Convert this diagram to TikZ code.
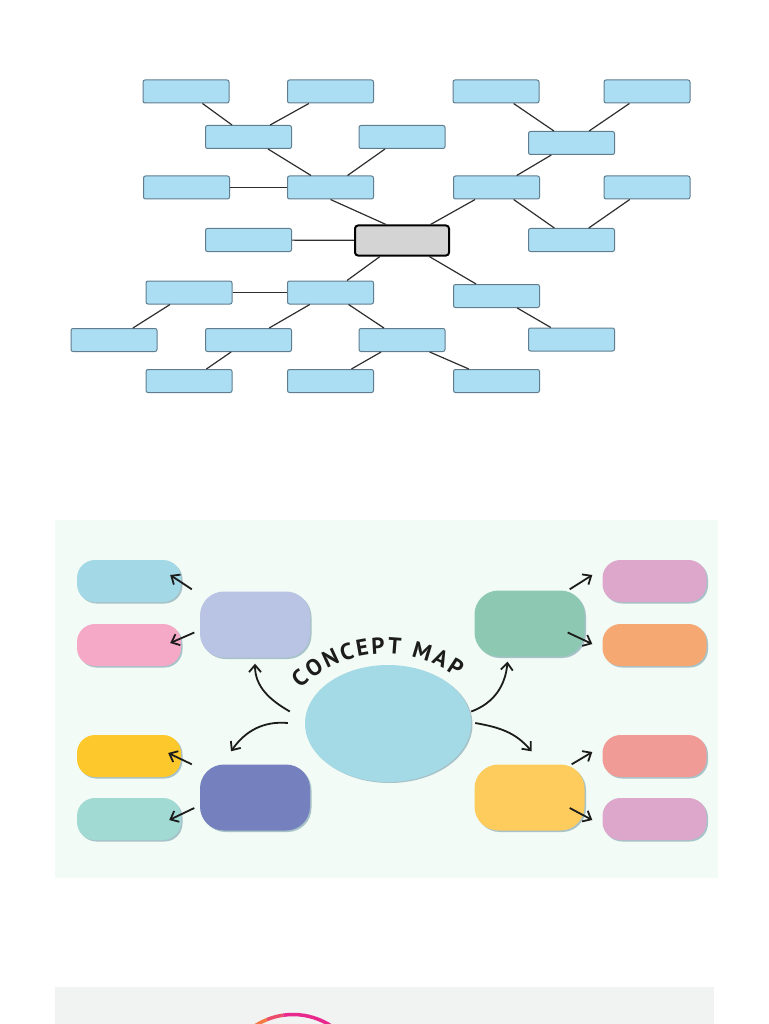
\documentclass[tikz,border=0pt]{standalone}
\usepackage{fontspec}
\usetikzlibrary{arrows.meta,shapes.geometric,shadows,decorations.text}
\newfontfamily\lettering{PT Sans}
\newcommand\maplettering{\lettering\bfseries\fontsize{23}{23}\selectfont}
\definecolor{cellfill}{HTML}{ABDEF3}
\definecolor{cellline}{HTML}{5F7D8F}
\definecolor{coregray}{HTML}{D4D4D4}
\definecolor{linkgray}{HTML}{2E2E2E}
\definecolor{mint}{HTML}{F2FBF5}
\definecolor{paper}{HTML}{F1F2F2}
\definecolor{blobshade}{HTML}{A7C2C8}
\definecolor{inkblack}{HTML}{1C1C1C}
\definecolor{cyanpill}{HTML}{A3D9E6}
\definecolor{pinkpill}{HTML}{F5A9C6}
\definecolor{lavblob}{HTML}{B9C3E4}
\definecolor{yellowpill}{HTML}{FDC82B}
\definecolor{tealpill}{HTML}{A1D9D3}
\definecolor{navyblob}{HTML}{7581BF}
\definecolor{hubblue}{HTML}{A3DAE6}
\definecolor{greenblob}{HTML}{8DC9B2}
\definecolor{orchidpill}{HTML}{DDA6CB}
\definecolor{orangepill}{HTML}{F5A872}
\definecolor{sunblob}{HTML}{FECC5D}
\definecolor{salmonpill}{HTML}{F19B97}
\definecolor{ringpink}{HTML}{E8288C}
\definecolor{ringorange}{HTML}{F47A46}

\begin{document}
\begin{tikzpicture}[
    x=1pt, y=1pt,
    cell/.style={draw=cellline, line width=1pt, fill=cellfill, rounded corners=2pt, minimum width=86pt, minimum height=23pt, inner sep=0pt},
    core/.style={draw=black, line width=2pt, fill=coregray, rounded corners=3pt, minimum width=94pt, minimum height=30pt, inner sep=0pt},
    link/.style={draw=linkgray, line width=1.2pt},
    pill/.style={rounded corners=18pt, minimum width=104pt, minimum height=42pt, inner sep=0pt, drop shadow={shadow xshift=1.5pt, shadow yshift=-1.5pt, fill=blobshade, opacity=1}},
    blob/.style={rounded corners=24pt, minimum width=110pt, minimum height=66pt, inner sep=0pt, drop shadow={shadow xshift=1.5pt, shadow yshift=-1.5pt, fill=blobshade, opacity=1}},
    carr/.style={-{Straight Barb[length=7pt, width=12pt]}, line width=1.8pt, draw=inkblack}
]
\useasboundingbox (0,0) rectangle (768,-1024);

\node[cell] (r1a) at (186,-91.5) {};
\node[cell] (r1b) at (330.5,-91.5) {};
\node[cell] (r1c) at (496,-91.5) {};
\node[cell] (r1d) at (647,-91.5) {};
\node[cell] (r2a) at (248.5,-137) {};
\node[cell] (r2b) at (402,-137) {};
\node[cell] (r2c) at (571.5,-143) {};
\node[cell] (r3a) at (186.5,-187.5) {};
\node[cell] (r3b) at (330.5,-187.5) {};
\node[cell] (r3c) at (496.5,-187.5) {};
\node[cell] (r3d) at (647,-187.5) {};
\node[cell] (r4a) at (248.5,-240) {};
\node[core] (core) at (402,-240.5) {};
\node[cell] (r4c) at (571.5,-240) {};
\node[cell] (r5a) at (189,-292.5) {};
\node[cell] (r5b) at (330.5,-292.5) {};
\node[cell] (r5c) at (496.5,-296) {};
\node[cell] (r6a) at (114,-340) {};
\node[cell] (r6b) at (248.5,-340) {};
\node[cell] (r6c) at (402,-340) {};
\node[cell] (r6d) at (571.5,-339.5) {};
\node[cell] (r7a) at (189,-381) {};
\node[cell] (r7b) at (330.5,-381) {};
\node[cell] (r7c) at (496.5,-381) {};

\draw[link] (r1a) -- (r2a);
\draw[link] (r1b) -- (r2a);
\draw[link] (r2a) -- (r3b);
\draw[link] (r2b) -- (r3b);
\draw[link] (r3a) -- (r3b);
\draw[link] (r3b.south) -- ([xshift=-16]core.north);
\draw[link] (r3c) -- (core);
\draw[link] (r3c) -- (r2c);
\draw[link] (r2c) -- (r1c);
\draw[link] (r2c) -- (r1d);
\draw[link] (r3c) -- (r4c);
\draw[link] (r3d) -- (r4c);
\draw[link] (r4a) -- (core);
\draw[link] (core) -- (r5b);
\draw[link] (core) -- (r5c);
\draw[link] (r5a) -- (r5b);
\draw[link] (r5a) -- (r6a);
\draw[link] (r5b) -- (r6b);
\draw[link] (r5b) -- (r6c);
\draw[link] (r5c) -- (r6d);
\draw[link] (r6b) -- (r7a);
\draw[link] (r6c) -- (r7b);
\draw[link] (r6c) -- (r7c);

\fill[mint] (55,-520) rectangle (718,-878);

\node[pill, fill=cyanpill] (cyn) at (129,-581) {};
\node[pill, fill=pinkpill] (pnk) at (129,-645) {};
\node[blob, fill=lavblob] (lav) at (255,-624.5) {};
\node[pill, fill=yellowpill] (ylwl) at (129,-756) {};
\node[pill, fill=tealpill] (tel) at (129,-819) {};
\node[blob, fill=navyblob] (dkb) at (255,-797.5) {};
\node[ellipse, fill=hubblue, minimum width=166pt, minimum height=117pt, inner sep=0pt,
      drop shadow={shadow xshift=1.5pt, shadow yshift=-1pt, fill=blobshade, opacity=1}] (hub) at (388,-723.5) {};
\node[blob, fill=greenblob] (grn) at (529.5,-623.5) {};
\node[pill, fill=orchidpill] (prp1) at (654.5,-581) {};
\node[pill, fill=orangepill] (orng) at (654.5,-645) {};
\node[blob, fill=sunblob] (ylw) at (529.5,-797.5) {};
\node[pill, fill=salmonpill] (sal) at (654.5,-756) {};
\node[pill, fill=orchidpill] (prp2) at (654.5,-819) {};

\path[decorate, decoration={text along path, text align=fit to path,
      text color=inkblack, text={|\maplettering|CONCEPT MAP}}]
  ([shift={(-87.75,35.26)}]hub.center) arc[start angle=134, end angle=54, radius=122];

\draw[carr] ([shift={(-15,12)}]hub.west) to[out=150, in=-90] ([yshift=-6]lav.south);
\draw[carr] ([shift={(-17,0.5)}]hub.west) to[out=175, in=55] ([shift={(-24,13)}]dkb.north);
\draw[carr] ([shift={(0,12)}]hub.east) to[out=20, in=-95] ([shift={(-22,-5)}]grn.south);
\draw[carr] ([shift={(4,0.5)}]hub.east) to[out=-10, in=130] ([shift={(2,13)}]ylw.north);

\draw[carr] ([shift={(-8,2)}]lav.north west) -- ([shift={(-11,6)}]cyn.east);
\draw[carr] ([shift={(-5.5,-8)}]lav.west) -- ([shift={(-11,2)}]pnk.east);
\draw[carr] ([shift={(-8,0)}]dkb.north west) -- ([shift={(-13,3)}]ylwl.east);
\draw[carr] ([shift={(-5.5,-10.5)}]dkb.west) -- ([shift={(-12,-1)}]tel.east);
\draw[carr] ([shift={(-15,1)}]grn.north east) -- ([shift={(-10,6)}]prp1.west);
\draw[carr] ([shift={(-17,-9)}]grn.east) -- ([shift={(-10,1)}]orng.west);
\draw[carr] ([shift={(-13,0)}]ylw.north east) -- ([shift={(-10,4)}]sal.west);
\draw[carr] ([shift={(-15,-10.5)}]ylw.east) -- ([shift={(-10,-1)}]prp2.west);

\fill[paper] (55,-987) rectangle (714,-1024);
\draw[ringorange, line width=3.5pt] (293,-1084) ++(150:69.5) arc[start angle=150, end angle=112, radius=69.5];
\draw[ringpink!55!ringorange, line width=3.5pt] (293,-1084) ++(112:69.5) arc[start angle=112, end angle=98, radius=69.5];
\draw[ringpink, line width=3.5pt] (293,-1084) ++(98:69.5) arc[start angle=98, end angle=30, radius=69.5];
\end{tikzpicture}
\end{document}
